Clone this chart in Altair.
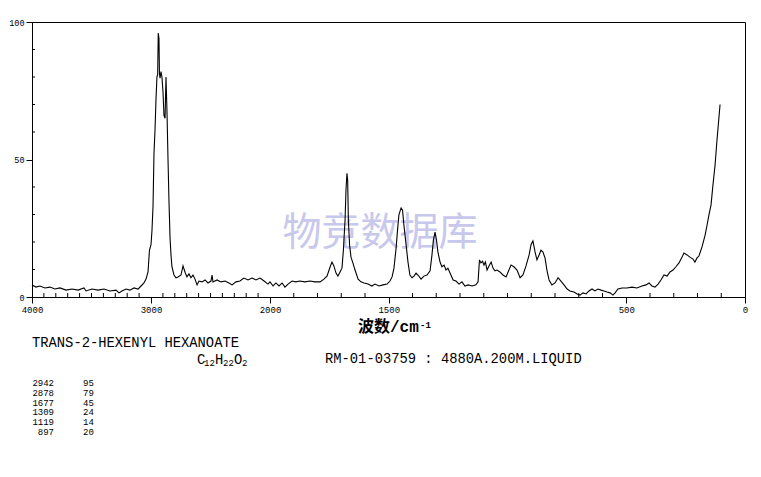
import altair as alt
import pandas as pd

# ---------------- data ----------------
wavenumber = [
    4000, 3966, 3933, 3891, 3849, 3807, 3765, 3714, 3664, 3613, 3563, 3546, 3496, 3445, 3395,
    3345, 3294, 3269, 3244, 3210, 3177, 3143, 3109, 3084, 3059, 3042, 3025, 3013, 3000, 2992,
    2983, 2975, 2966, 2958, 2950, 2944, 2939, 2933, 2929, 2924, 2916, 2908, 2899, 2891, 2882,
    2874, 2866, 2857, 2849, 2840, 2832, 2824, 2807, 2790, 2773, 2748, 2731, 2714, 2698, 2681,
    2664, 2647, 2630, 2613, 2597, 2571, 2546, 2521, 2496, 2487, 2479, 2445, 2412, 2378, 2345,
    2319, 2286, 2252, 2219, 2185, 2151, 2118, 2084, 2050, 2017, 2000,
    1987, 1975, 1962, 1949, 1937, 1924, 1907, 1891, 1874, 1853, 1832, 1811, 1789, 1773, 1760,
    1747, 1739, 1731, 1722, 1714, 1705, 1697, 1691, 1684, 1680, 1676, 1673, 1670, 1665, 1659,
    1651, 1642, 1629, 1617, 1604, 1587, 1571, 1558, 1541, 1524, 1507, 1495, 1486, 1478, 1469,
    1463, 1457, 1448, 1442, 1436, 1427, 1419, 1411, 1402, 1394, 1385, 1377, 1364, 1352, 1339,
    1326, 1318, 1312, 1305, 1299, 1293, 1284, 1276, 1267, 1259, 1251, 1242, 1229, 1217, 1204,
    1192, 1179, 1166, 1149, 1133, 1124, 1118, 1112, 1105, 1099, 1093, 1086, 1078, 1069, 1061,
    1053, 1044, 1032, 1019, 1006, 994, 985, 973, 960, 947, 935, 922, 909, 901, 893,
    884, 876, 867, 859, 851, 842, 834, 825, 813, 800, 787, 775, 762, 749, 737,
    720, 707, 695, 682, 669, 657, 644, 632, 619, 606, 594, 581, 568, 556, 547,
    535, 518, 497, 476, 455, 434, 417, 404, 392, 379, 366, 354, 341, 328, 316,
    303, 291, 278, 265, 257, 244, 232, 219, 211, 202, 194, 181, 168, 160, 152,
    143, 135, 126, 118, 109, 105,
]
intensity = [
    4.4, 3.6, 4.0, 3.3, 3.6, 2.9, 3.3, 2.5, 2.9, 2.5, 3.3, 2.2, 2.9, 2.5, 2.9,
    2.2, 2.5, 1.5, 2.2, 2.9, 2.5, 3.3, 2.9, 4.0, 5.1, 6.5, 9.1, 17, 19, 24,
    33, 52, 61, 72, 80, 81, 96, 94, 81, 79.6, 82, 80, 74.5, 66, 65,
    80, 68, 50, 35, 21.5, 15.3, 11, 8, 7, 7.3, 8, 11.3, 9, 7.3, 8.4,
    7, 8, 6.5, 4.4, 5.8, 5.5, 6.2, 5.1, 5.8, 8, 5.5, 6.2, 5.5, 5.8, 5.1,
    4.4, 5.5, 5.8, 6.9, 6.2, 6.9, 6.2, 6.9, 5.8, 4.7, 5.5,
    4.0, 5.1, 4.0, 5.1, 3.6, 4.7, 5.8, 5.5, 5.8, 5.5, 5.8, 5.5, 5.5, 6.5, 7.6,
    10.9, 12.7, 11.3, 8.7, 7.6, 9.1, 10.5, 17, 28, 39, 45, 42.5, 28, 19, 14.5,
    12.4, 9.8, 6.5, 5.5, 5.1, 4.7, 4.0, 4.7, 4.0, 4.4, 4.7, 5.8, 7.3, 10.5, 17.8,
    24.4, 30, 32.4, 31.6, 26, 19, 12.7, 8, 7, 7.6, 8.7, 8, 6.5, 7.6, 8,
    9.5, 15.3, 20.7, 23.6, 20.7, 16.4, 12.7, 11, 11.6, 9.8, 10.5, 8.7, 6.2, 5.8, 4.7,
    5.5, 4.0, 4.4, 4.0, 4.4, 5.5, 13.5, 12.4, 13, 11.6, 12.7, 9.8, 11.3, 12.7, 10.5,
    9.5, 9.8, 9.1, 8, 7.3, 9.8, 11.6, 11, 9.8, 7, 8, 11.3, 15.3, 19, 20.4,
    16.4, 13.5, 15.3, 17, 16.4, 14.2, 9.8, 6.2, 4.4, 5.1, 7, 5.8, 4.4, 2.9, 2.2,
    1.8, 1.1, 0.7, 1.5, 1.1, 2.2, 2.9, 2.2, 2.9, 2.5, 2.2, 1.8, 1.5, 0.7, 1.5,
    2.9, 3.3, 3.3, 3.6, 3.3, 4.0, 4.4, 5.1, 4.0, 3.6, 4.7, 6.2, 8, 7.6, 9.1,
    9.8, 11, 12.4, 14.5, 16, 15.3, 14.5, 13.8, 12.7, 14.2, 14.9, 18.2, 22.5, 26, 29.8,
    33.5, 40.7, 48, 57, 66, 70,
]

x_major_ticks = [4000, 3000, 2000, 1500, 500, 0]
x_minor_ticks = [v for v in range(100, 4000, 100) if v not in x_major_ticks]
y_major_ticks = [0, 50, 100]
y_minor_ticks = [10, 20, 30, 40, 60, 70, 80, 90]

compound_name = "TRANS-2-HEXENYL HEXANOATE"
sample_info = "RM-01-03759 : 4880A.200M.LIQUID"
formula_parts = ["C", "12", "H", "22", "O", "2"]
peak_wavenumbers = ["2942", "2878", "1677", "1309", "1119", "897"]
peak_intensities = ["95", "79", "45", "24", "14", "20"]
x_title = "波数/cm"
x_title_sup = "-1"
watermark = "物竞数据库"

# ---------------- chart ----------------
W, H = 713, 275
MONO = "Liberation Mono"

xscale = alt.Scale(domain=[4000, 2000, 0], range=[0, 238, W], nice=False, zero=False)
yscale = alt.Scale(domain=[0, 100], nice=False, zero=False)

xaxis = alt.Axis(values=x_major_ticks, format="d", title=None, grid=False,
                 tickSize=6, tickColor="black", tickWidth=1, domainColor="black",
                 labelFont=MONO, labelFontSize=9, labelColor="black",
                 labelPadding=2, labelFlush=False, labelOverlap=False)
yaxis = alt.Axis(values=y_major_ticks, format="d", title=None, grid=False,
                 tickSize=6, tickColor="black", tickWidth=1, domainColor="black",
                 labelFont=MONO, labelFontSize=8.5, labelColor="black",
                 labelPadding=2, labelFlush=False, labelOverlap=False)

spec_df = pd.DataFrame({"wn": wavenumber, "val": intensity})

wm = alt.Chart(pd.DataFrame({"t": [watermark]})).mark_text(
    font="Noto Sans CJK SC", fontSize=39, color="#c8c8ec", align="center", baseline="middle"
).encode(x=alt.value(348), y=alt.value(211), text="t:N")

line = alt.Chart(spec_df).mark_line(color="black", strokeWidth=1.1, interpolate="linear").encode(
    x=alt.X("wn:Q", scale=xscale, axis=xaxis),
    y=alt.Y("val:Q", scale=yscale, axis=yaxis),
)

xminor = alt.Chart(pd.DataFrame({"wn": x_minor_ticks})).mark_rule(color="black", strokeWidth=1).encode(
    x=alt.X("wn:Q", scale=xscale, axis=xaxis), y=alt.value(H), y2=alt.value(H - 4)
)
yminor = alt.Chart(pd.DataFrame({"val": y_minor_ticks})).mark_rule(color="black", strokeWidth=1).encode(
    y=alt.Y("val:Q", scale=yscale, axis=yaxis), x=alt.value(0), x2=alt.value(3)
)


def label(text, x, y, size, font=MONO, align="left", weight="normal"):
    return alt.Chart(pd.DataFrame({"t": [text]})).mark_text(
        align=align, baseline="alphabetic", font=font, fontSize=size,
        fontWeight=weight, color="black"
    ).encode(x=alt.value(x), y=alt.value(y), text="t:N")


OX, OY = 32, 22  # plot origin on page
texts = [
    label(x_title, 358 - OX, 332 - OY, 16, font="Liberation Mono, Noto Sans CJK SC", weight="bold"),
    label(x_title_sup, 420 - OX, 328 - OY, 9, weight="bold"),
    label(compound_name, 32 - OX, 347 - OY, 13.8),
    label(sample_info, 325 - OX, 363 - OY, 13.8),
]
# formula with subscripts
fx = [197, 204, 215, 223, 234, 242]
for i, (part, px) in enumerate(zip(formula_parts, fx)):
    if i % 2 == 0:
        texts.append(label(part, px - OX, 364 - OY, 13.8))
    else:
        texts.append(label(part, px - OX, 366 - OY, 9))

texts.append(alt.Chart(pd.DataFrame({"t": ["\n".join(peak_wavenumbers)]})).mark_text(
    align="right", baseline="alphabetic", font=MONO, fontSize=9, color="black",
    lineBreak="\n", lineHeight=9.8
).encode(x=alt.value(54 - OX), y=alt.value(386 - OY), text="t:N"))
texts.append(alt.Chart(pd.DataFrame({"t": ["\n".join(peak_intensities)]})).mark_text(
    align="left", baseline="alphabetic", font=MONO, fontSize=9, color="black",
    lineBreak="\n", lineHeight=9.8
).encode(x=alt.value(83 - OX), y=alt.value(386 - OY), text="t:N"))

chart = alt.layer(wm, line, xminor, yminor, *texts).properties(
    width=W, height=H,
    autosize=alt.AutoSizeParams(type="none"),
    padding={"left": 24, "top": 14, "right": 8, "bottom": 172},
    background="white",
).configure_view(stroke="black", strokeWidth=1)

chart.save("out.html", embed_options={"renderer": "svg", "actions": False})
